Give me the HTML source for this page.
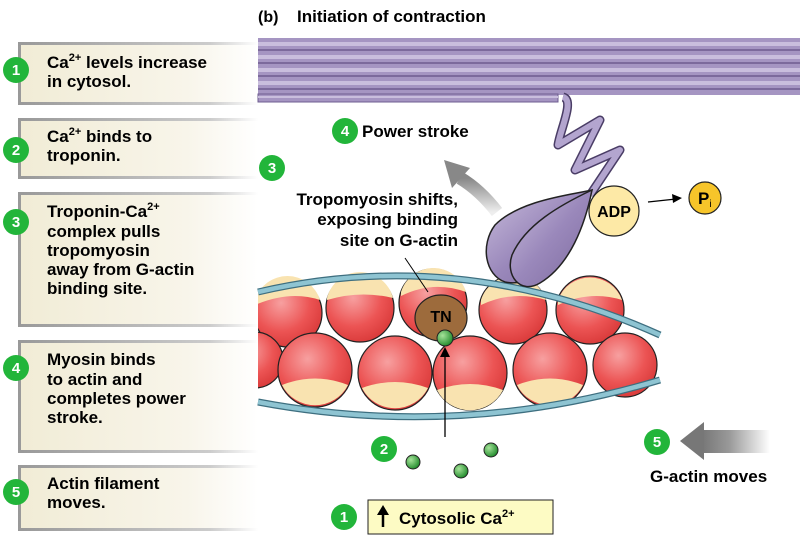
<!DOCTYPE html>
<html><head><meta charset="utf-8"><style>
body{margin:0;width:800px;height:542px;overflow:hidden;background:#fff;font-family:"Liberation Sans",Arial,sans-serif}
svg text{font-family:"Liberation Sans",Arial,sans-serif;font-weight:bold}
</style></head><body>
<svg width="800" height="542" viewBox="0 0 800 542" xmlns="http://www.w3.org/2000/svg">
<defs>
<linearGradient id="box" x1="0" x2="1"><stop offset="0" stop-color="#f1ecd6"/><stop offset="0.7" stop-color="#f8f5ea"/><stop offset="1" stop-color="#ffffff"/></linearGradient>
<linearGradient id="edge" x1="0" x2="1"><stop offset="0" stop-color="#999"/><stop offset="0.8" stop-color="#ccc"/><stop offset="1" stop-color="#fff"/></linearGradient>
<linearGradient id="garr" x1="1" x2="0"><stop offset="0" stop-color="#fff"/><stop offset="0.6" stop-color="#999"/><stop offset="1" stop-color="#777"/></linearGradient>
<linearGradient id="garr2" x1="0" y1="1" x2="0" y2="0"><stop offset="0" stop-color="#eee"/><stop offset="1" stop-color="#888"/></linearGradient>
<radialGradient id="red" cx="0.4" cy="0.35" r="0.7"><stop offset="0" stop-color="#f7a0a0"/><stop offset="0.6" stop-color="#ec5454"/><stop offset="1" stop-color="#d83838"/></radialGradient>
<radialGradient id="grn" cx="0.35" cy="0.35" r="0.7"><stop offset="0" stop-color="#a6e39a"/><stop offset="1" stop-color="#1f8a2a"/></radialGradient>
<linearGradient id="purp" x1="0" y1="0" x2="1" y2="1"><stop offset="0" stop-color="#c9bddc"/><stop offset="0.5" stop-color="#9a88bb"/><stop offset="1" stop-color="#7d6a9e"/></linearGradient>
<clipPath id="rt"><rect x="258" y="0" width="542" height="542"/></clipPath>
</defs>

<text x="258" y="22" font-size="16">(b)</text>
<text x="297" y="22" font-size="17">Initiation of contraction</text>

<!-- left boxes -->
<g font-size="17">
<rect x="18" y="42" width="240" height="63" fill="url(#edge)"/><rect x="21" y="45" width="237" height="57" fill="url(#box)"/>
<rect x="18" y="118" width="240" height="61" fill="url(#edge)"/><rect x="21" y="121" width="237" height="55" fill="url(#box)"/>
<rect x="18" y="192" width="240" height="135" fill="url(#edge)"/><rect x="21" y="195" width="237" height="129" fill="url(#box)"/>
<rect x="18" y="340" width="240" height="113" fill="url(#edge)"/><rect x="21" y="343" width="237" height="107" fill="url(#box)"/>
<rect x="18" y="465" width="240" height="66" fill="url(#edge)"/><rect x="21" y="468" width="237" height="60" fill="url(#box)"/>
<text x="47" y="68">Ca<tspan font-size="11" dy="-7">2+</tspan><tspan dy="7"> levels increase</tspan></text>
<text x="47" y="87">in cytosol.</text>
<text x="47" y="142">Ca<tspan font-size="11" dy="-7">2+</tspan><tspan dy="7"> binds to</tspan></text>
<text x="47" y="161">troponin.</text>
<text x="47" y="217">Troponin-Ca<tspan font-size="11" dy="-7">2+</tspan></text>
<text x="47" y="237">complex pulls</text>
<text x="47" y="256">tropomyosin</text>
<text x="47" y="275">away from G-actin</text>
<text x="47" y="294">binding site.</text>
<text x="47" y="365">Myosin binds</text>
<text x="47" y="385">to actin and</text>
<text x="47" y="404">completes power</text>
<text x="47" y="423">stroke.</text>
<text x="47" y="489">Actin filament</text>
<text x="47" y="508">moves.</text>
</g>
<g font-size="15" fill="#fff" text-anchor="middle">
<circle cx="16" cy="70" r="13" fill="#22b53a"/><text x="16" y="75">1</text>
<circle cx="16" cy="150" r="13" fill="#22b53a"/><text x="16" y="155">2</text>
<circle cx="16" cy="222" r="13" fill="#22b53a"/><text x="16" y="227">3</text>
<circle cx="16" cy="368" r="13" fill="#22b53a"/><text x="16" y="373">4</text>
<circle cx="16" cy="492" r="13" fill="#22b53a"/><text x="16" y="497">5</text>
</g>

<!-- thick filament -->
<rect x="258" y="38" width="542" height="57" fill="#a595c2"/>
<g stroke="#c9bedd" stroke-width="4">
<line x1="258" y1="44" x2="800" y2="44"/><line x1="258" y1="57" x2="800" y2="57"/><line x1="258" y1="70" x2="800" y2="70"/><line x1="258" y1="83" x2="800" y2="83"/></g>
<g stroke="#6e5d90" stroke-width="1.5">
<line x1="258" y1="50" x2="800" y2="50"/><line x1="258" y1="63" x2="800" y2="63"/><line x1="258" y1="76" x2="800" y2="76"/><line x1="258" y1="89" x2="800" y2="89"/></g>
<rect x="258" y="94" width="300" height="8" fill="#a595c2" stroke="#6e5d90" stroke-width="1"/>
<line x1="258" y1="97" x2="558" y2="97" stroke="#c9bedd" stroke-width="2"/>

<!-- neck -->
<path d="M563,97 C575,100 560,130 558,145 L600,120 L575,170 L620,150 L590,195" fill="none" stroke="#4a3d66" stroke-width="9" stroke-linejoin="round"/>
<path d="M563,97 C575,100 560,130 558,145 L600,120 L575,170 L620,150 L590,195" fill="none" stroke="#b3a5cf" stroke-width="6" stroke-linejoin="round"/>

<!-- actin -->
<g clip-path="url(#rt)">
<g stroke="#222" stroke-width="1.2">
<circle cx="288" cy="313" r="34" fill="url(#red)"/><circle cx="360" cy="308" r="34" fill="url(#red)"/><circle cx="433" cy="303" r="34" fill="url(#red)"/><circle cx="513" cy="310" r="34" fill="url(#red)"/><circle cx="590" cy="310" r="34" fill="url(#red)"/>
<circle cx="255" cy="360" r="28" fill="url(#red)"/><circle cx="315" cy="370" r="37" fill="url(#red)"/><circle cx="395" cy="373" r="37" fill="url(#red)"/><circle cx="470" cy="373" r="37" fill="url(#red)"/><circle cx="550" cy="370" r="37" fill="url(#red)"/><circle cx="625" cy="365" r="32" fill="url(#red)"/>
</g>
<g fill="#f9e3b0">
<path d="M255,300 A34,34 0 0 1 320,300 Q290,290 255,305Z"/>
<path d="M327,298 A34,34 0 0 1 393,298 Q360,290 327,300Z"/>
<path d="M401,292 A34,34 0 0 1 466,292 Q433,280 401,296Z"/>
<path d="M481,300 A34,34 0 0 1 546,300 Q513,290 481,305Z"/>
<path d="M558,300 A34,34 0 0 1 622,300 Q590,290 558,305Z"/>
<path d="M282,385 A37,37 0 0 0 348,385 Q315,372 282,385Z"/>
<path d="M362,388 A37,37 0 0 0 428,388 Q395,376 362,388Z"/>
<path d="M437,390 A37,37 0 0 0 503,390 Q470,378 437,390Z"/>
<path d="M517,385 A37,37 0 0 0 583,385 Q550,372 517,385Z"/>
</g>
</g>
<!-- tropomyosin -->
<path d="M258,292 Q460,245 660,335" fill="none" stroke="#3e6f80" stroke-width="7"/>
<path d="M258,292 Q460,245 660,335" fill="none" stroke="#8ec4d2" stroke-width="4.5"/>
<path d="M258,402 Q460,440 660,380" fill="none" stroke="#3e6f80" stroke-width="7"/>
<path d="M258,402 Q460,440 660,380" fill="none" stroke="#8ec4d2" stroke-width="4.5"/>

<!-- myosin head -->
<path d="M592,190 C570,195 520,200 495,225 C480,245 485,275 505,282 C540,290 575,240 592,190Z" fill="url(#purp)" stroke="#222" stroke-width="1.5"/>
<path d="M592,190 C585,225 570,265 540,283 C520,295 505,275 512,255 C525,225 560,205 592,190Z" fill="url(#purp)" stroke="#222" stroke-width="1.5"/>

<!-- TN -->
<ellipse cx="441" cy="318" rx="26" ry="23" fill="#9d6b3c" stroke="#222" stroke-width="1.2"/>
<text x="441" y="322" font-size="16" text-anchor="middle">TN</text>
<circle cx="445" cy="338" r="8" fill="url(#grn)" stroke="#222"/>
<line x1="445" y1="437" x2="445" y2="352" stroke="#000" stroke-width="1.3"/>
<path d="M445,347 L440,357 L450,357Z"/>
<line x1="405" y1="258" x2="428" y2="292" stroke="#000" stroke-width="1"/>

<!-- labels -->
<text x="458" y="205" font-size="17" text-anchor="end">Tropomyosin shifts,</text>
<text x="458" y="225" font-size="17" text-anchor="end">exposing binding</text>
<text x="458" y="246" font-size="17" text-anchor="end">site on G-actin</text>
<text x="362" y="137" font-size="17">Power stroke</text>

<!-- gray curved arrow -->
<path d="M497,212 Q480,190 460,178" fill="none" stroke="url(#garr2)" stroke-width="13"/>
<path d="M444,160 L470,168 L452,188Z" fill="#888"/>

<!-- ADP Pi -->
<circle cx="614" cy="211" r="25" fill="#fde9a6" stroke="#222" stroke-width="1.2"/>
<text x="614" y="217" font-size="16" text-anchor="middle">ADP</text>
<line x1="648" y1="202" x2="676" y2="199" stroke="#000" stroke-width="1.3"/>
<path d="M682,198 L672,194 L673,203Z"/>
<circle cx="705" cy="198" r="16" fill="#f7c52a" stroke="#222" stroke-width="1.2"/>
<text x="698" y="204" font-size="17">P<tspan font-size="10" dy="3" font-weight="normal">i</tspan></text>

<!-- G-actin moves -->
<rect x="702" y="430" width="68" height="23" fill="url(#garr)"/>
<path d="M680,441 L704,422 L704,460Z" fill="#777"/>
<text x="650" y="482" font-size="17">G-actin moves</text>

<!-- Ca dots -->
<circle cx="413" cy="462" r="7" fill="url(#grn)" stroke="#222"/>
<circle cx="461" cy="471" r="7" fill="url(#grn)" stroke="#222"/>
<circle cx="491" cy="450" r="7" fill="url(#grn)" stroke="#222"/>

<!-- bottom box -->
<rect x="368" y="500" width="185" height="34" fill="#fdfbc4" stroke="#222" stroke-width="1"/>
<line x1="383" y1="527" x2="383" y2="512" stroke="#000" stroke-width="2.5"/>
<path d="M383,505 L377,515 L389,515Z"/>
<text x="399" y="524" font-size="17">Cytosolic Ca<tspan font-size="11" dy="-7">2+</tspan></text>

<g font-size="15" fill="#fff" text-anchor="middle">
<circle cx="345" cy="131" r="13" fill="#22b53a"/><text x="345" y="136">4</text>
<circle cx="272" cy="168" r="13" fill="#22b53a"/><text x="272" y="173">3</text>
<circle cx="384" cy="449" r="13" fill="#22b53a"/><text x="384" y="454">2</text>
<circle cx="344" cy="517" r="13" fill="#22b53a"/><text x="344" y="522">1</text>
<circle cx="657" cy="442" r="13" fill="#22b53a"/><text x="657" y="447">5</text>
</g>
</svg>
</body></html>
